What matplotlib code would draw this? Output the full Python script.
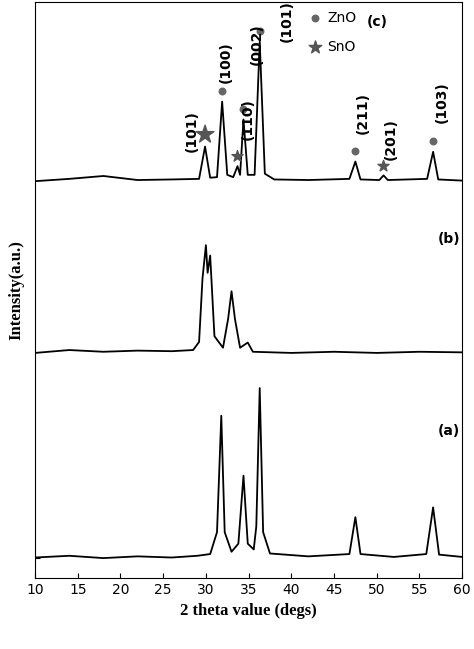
import matplotlib
matplotlib.use("Agg")
import matplotlib.pyplot as plt

# trace (a)
xa = [10,14,18,22,26,29,30.5,31.3,31.8,32.2,33,33.8,34.4,34.9,35.6,35.9,36.3,36.7,37.5,42,46.8,47.5,48.1,52,55.8,56.6,57.3,60]
ya = [3.6,3.9,3.5,3.8,3.6,3.9,4.2,8,28.2,8,4.6,6,17.8,6,5,9,33.0,8,4.3,3.8,4.2,10.6,4.2,3.7,4.2,12.3,4.1,3.7]
# trace (b)
xb = [10,14,18,22,26,28.5,29.2,29.6,30.0,30.2,30.5,31,32,32.6,33.0,33.4,34,34.9,35.5,40,45,50,55,60]
yb = [39.1,39.6,39.3,39.5,39.4,39.6,41,52,57.8,53,56,42,40,45,49.8,45,40,40.9,39.3,39.1,39.3,39.1,39.3,39.2]
# trace (c)
xc = [10,14,18,22,26,29.2,29.9,30.5,31.3,31.9,32.5,33.2,33.7,34.0,34.4,34.9,35.7,36.3,36.9,38,42,46.8,47.5,48.1,50.3,50.8,51.3,55.9,56.6,57.2,60]
yc = [68.9,69.3,69.8,69.1,69.2,69.3,74.9,69.5,69.6,82.7,70,69.6,71.5,70,79.6,70,70,93.1,70.2,69.2,69.1,69.3,72.3,69.2,69.1,69.9,69.1,69.3,74.0,69.2,69.0]

zno_x = [31.9,34.4,36.3,47.5,56.6]
zno_y = [84.5,81.5,95.0,74.2,75.8]
sno_x = [29.9,33.7,50.8]
sno_y = [77.0,73.2,71.5]
sno_s = [180,70,70]
lab_txt = ["(101)","(100)","(110)","(002)","(101)","(211)","(201)","(103)"]
lab_x = [28.3,32.3,34.9,35.9,39.5,48.4,51.6,57.6]
lab_y = [74,86,76,89,93,77,72.5,79]

fig = plt.figure(figsize=(4.74,6.49), dpi=100)
ax = fig.add_axes([0.074,0.109,0.901,0.888])
for x,y in [(xa,ya),(xb,yb),(xc,yc)]:
    ax.plot(x,y,color="black",lw=1.3)
ax.scatter(zno_x,zno_y,s=22,color="#666666",zorder=3)
ax.scatter(sno_x,sno_y,s=sno_s,marker="*",color="#555555",zorder=3)
for t,x,y in zip(lab_txt,lab_x,lab_y):
    ax.text(x,y,t,rotation=90,ha="center",va="bottom",fontsize=10,fontweight="bold")
ax.scatter([42.8],[97.3],s=22,color="#666666")
ax.text(44.2,97.3,"ZnO",va="center",fontsize=10)
ax.scatter([42.8],[92.2],s=90,marker="*",color="#555555")
ax.text(44.2,92.2,"SnO",va="center",fontsize=10)
ax.text(48.8,96.5,"(c)",fontsize=10,fontweight="bold",va="center")
ax.text(57.2,58.8,"(b)",fontsize=10,fontweight="bold",va="center")
ax.text(57.2,25.6,"(a)",fontsize=10,fontweight="bold",va="center")
ax.set_xlim(10,60)
ax.set_ylim(0,100)
ax.set_xticks(range(10,61,5))
ax.set_yticks([3.6])
ax.set_yticklabels([])
ax.tick_params(direction="in",labelsize=10)
ax.set_xlabel("2 theta value (degs)",family="Liberation Serif",fontweight="bold",fontsize=12)
ax.set_ylabel("Intensity(a.u.)",family="Liberation Serif",fontweight="bold",fontsize=12,labelpad=4)
fig.savefig("out.png",dpi=100)
